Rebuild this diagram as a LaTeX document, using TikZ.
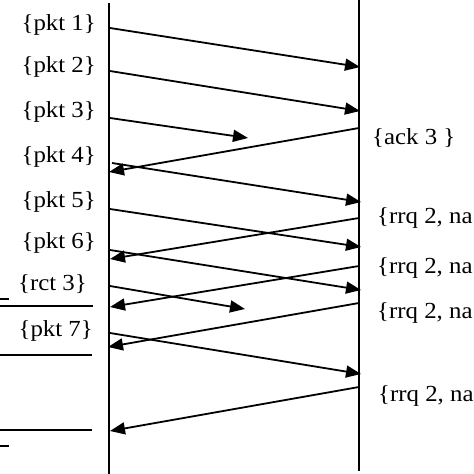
\documentclass[tikz,border=0pt]{standalone}
\usepackage{fontspec}
\setmainfont[FakeStretch=1.08]{Liberation Serif}
\usetikzlibrary{arrows.meta}
\tikzset{
  msg/.style={line width=1.8pt,-{Triangle[length=15pt,width=12pt]}},
  life/.style={line width=1.8pt},
  rule/.style={line width=1.6pt},
  lbl/.style={font=\fontsize{23}{25}\selectfont, inner sep=0pt},
}
\begin{document}
\begin{tikzpicture}[x=1pt,y=-1pt]
\useasboundingbox (0,0) rectangle (474,474);
% lifelines
\coordinate (Ltop) at (109,3);
\coordinate (Lbot) at (109,474);
\coordinate (Rtop) at (359,0);
\coordinate (Rbot) at (359,471);
\draw[life] (Ltop) -- (Lbot);
\draw[life] (Rtop) -- (Rbot);
% left labels
\node[lbl,anchor=east] (p1) at (96,25) {\{pkt 1\}};
\node[lbl,anchor=east] (p2) at (96,67) {\{pkt 2\}};
\node[lbl,anchor=east] (p3) at (96,112) {\{pkt 3\}};
\node[lbl,anchor=east] (p4) at (96,157) {\{pkt 4\}};
\node[lbl,anchor=east] (p5) at (96,202) {\{pkt 5\}};
\node[lbl,anchor=east] (p6) at (96,243) {\{pkt 6\}};
\node[lbl,anchor=east] (r3) at (87,284) {\{rct 3\}};
\node[lbl,anchor=east] (p7) at (93,331) {\{pkt 7\}};
% right labels
\node[lbl,anchor=west] (a3) at (372,138) {\{ack 3 \}};
\node[lbl,anchor=west] (q1) at (377,218) {\{rrq 2, na};
\node[lbl,anchor=west] (q2) at (377,268) {\{rrq 2, na};
\node[lbl,anchor=west] (q3) at (377,313) {\{rrq 2, na};
\node[lbl,anchor=west] (q4) at (378,396) {\{rrq 2, na};
% left rules
\coordinate (h1a) at (0,306); \coordinate (h1b) at (93,306);
\coordinate (h2a) at (0,355); \coordinate (h2b) at (92,355);
\coordinate (h3a) at (0,430); \coordinate (h3b) at (92,430);
\coordinate (d1a) at (0,299); \coordinate (d1b) at (9,299);
\coordinate (d2a) at (0,446); \coordinate (d2b) at (9,446);
\draw[rule] (h1a) -- (h1b);
\draw[rule] (h2a) -- (h2b);
\draw[rule] (h3a) -- (h3b);
\draw[rule] (d1a) -- (d1b);
\draw[rule] (d2a) -- (d2b);
% message end points
\coordinate (s1) at (110,28);  \coordinate (e1) at (360,67);
\coordinate (s2) at (110,71);  \coordinate (e2) at (360,111);
\coordinate (s3) at (110,118); \coordinate (e3) at (248,138);
\coordinate (sa) at (359,128); \coordinate (ea) at (109,172);
\coordinate (s4) at (112,163); \coordinate (e4) at (361,202);
\coordinate (s5) at (110,209); \coordinate (e5) at (361,247);
\coordinate (sq1) at (359,218); \coordinate (eq1) at (110,259);
\coordinate (s6) at (110,250); \coordinate (e6) at (361,290);
\coordinate (sq2) at (359,266); \coordinate (eq2) at (110,307);
\coordinate (sr) at (110,286); \coordinate (er) at (245,309);
\coordinate (sq3) at (359,303); \coordinate (eq3) at (108,347);
\coordinate (s7) at (110,333); \coordinate (e7) at (361,374);
\coordinate (sq4) at (359,387); \coordinate (eq4) at (110,431);
\draw[msg] (s1) -- (e1);
\draw[msg] (s2) -- (e2);
\draw[msg] (s3) -- (e3);
\draw[msg] (sa) -- (ea);
\draw[msg] (s4) -- (e4);
\draw[msg] (s5) -- (e5);
\draw[msg] (sq1) -- (eq1);
\draw[msg] (s6) -- (e6);
\draw[msg] (sq2) -- (eq2);
\draw[msg] (sr) -- (er);
\draw[msg] (sq3) -- (eq3);
\draw[msg] (s7) -- (e7);
\draw[msg] (sq4) -- (eq4);
\end{tikzpicture}
\end{document}
